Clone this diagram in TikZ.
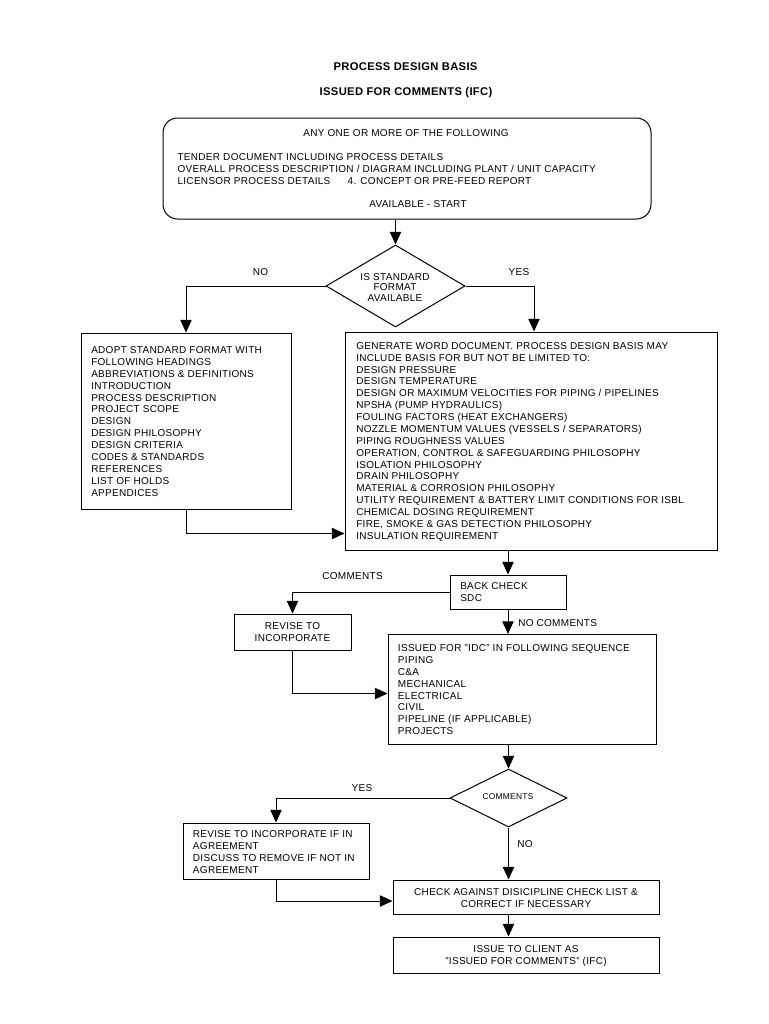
\documentclass[tikz,border=0pt]{standalone}
\usepackage{fontspec}
\setmainfont{Liberation Sans}[LetterSpace=3]
\usetikzlibrary{arrows.meta,calc,shapes.geometric}
\begin{document}
\begin{tikzpicture}[x=0.75pt,y=-0.75pt,
  pbox/.style 2 args={draw, line width=0.75pt, inner sep=0pt, minimum width=#1*0.75pt, minimum height=#2*0.75pt},
  dia/.style 2 args={diamond, draw, line width=0.75pt, inner sep=0pt, minimum width=#1*0.75pt, minimum height=#2*0.75pt},
  blk/.style={inner sep=0pt, font=\fontsize{7.5}{8.9}\selectfont, align=left, anchor=north west},
  ctr/.style={inner sep=0pt, font=\fontsize{7.5}{8.9}\selectfont, align=center, anchor=center},
  lbl/.style={inner sep=0pt, font=\fontsize{7.5}{8.9}\selectfont},
  ttl/.style={inner sep=0pt, font=\fontsize{8.4}{9}\selectfont\bfseries},
  arr/.style={draw, line width=0.75pt, -{Triangle[width=8.5pt,length=9.5pt]}}]
\useasboundingbox (0,0) rectangle (768,1024);

% titles
\node[ttl] (t1) at (405.5,67) {PROCESS DESIGN BASIS};
\node[ttl] (t2) at (406,92.7) {ISSUED FOR COMMENTS (IFC)};

% start box
\node[pbox={488}{101}, rounded corners=11pt] (start) at (407,168.5) {};
\node[lbl] (st1) at (406,133.3) {ANY ONE OR MORE OF THE FOLLOWING};
\node[blk] (st2) at (177.3,153.7) {TENDER DOCUMENT INCLUDING PROCESS DETAILS\\
OVERALL PROCESS DESCRIPTION / DIAGRAM INCLUDING PLANT / UNIT CAPACITY\\
LICENSOR PROCESS DETAILS\hspace{13pt}4. CONCEPT OR PRE-FEED REPORT};
\node[lbl] (st3) at (418,204.3) {AVAILABLE - START};

% decision 1
\node[dia={139}{82}] (d1) at (395.5,286) {};
\node[ctr, font=\fontsize{7.5}{8.1}\selectfont] (d1t) at (395,287.5) {IS STANDARD\\FORMAT\\AVAILABLE};
\node[lbl] (lno1) at (260.5,272) {NO};
\node[lbl] (lyes1) at (519,272) {YES};

% left box
\node[pbox={210}{176}] (left) at (186,421) {};
\node[blk] (leftt) at (91,346.4) {ADOPT STANDARD FORMAT WITH\\
FOLLOWING HEADINGS\\
ABBREVIATIONS \& DEFINITIONS\\
INTRODUCTION\\
PROCESS DESCRIPTION\\
PROJECT SCOPE\\
DESIGN\\
DESIGN PHILOSOPHY\\
DESIGN CRITERIA\\
CODES \& STANDARDS\\
REFERENCES\\
LIST OF HOLDS\\
APPENDICES};

% right box
\node[pbox={372}{218}] (right) at (531,441) {};
\node[blk] (rightt) at (356,342.1) {GENERATE WORD DOCUMENT. PROCESS DESIGN BASIS MAY\\
INCLUDE BASIS FOR BUT NOT BE LIMITED TO:\\
DESIGN PRESSURE\\
DESIGN TEMPERATURE\\
DESIGN OR MAXIMUM VELOCITIES FOR PIPING / PIPELINES\\
NPSHA (PUMP HYDRAULICS)\\
FOULING FACTORS (HEAT EXCHANGERS)\\
NOZZLE MOMENTUM VALUES (VESSELS / SEPARATORS)\\
PIPING ROUGHNESS VALUES\\
OPERATION, CONTROL \& SAFEGUARDING PHILOSOPHY\\
ISOLATION PHILOSOPHY\\
DRAIN PHILOSOPHY\\
MATERIAL \& CORROSION PHILOSOPHY\\
UTILITY REQUIREMENT \& BATTERY LIMIT CONDITIONS FOR ISBL\\
CHEMICAL DOSING REQUIREMENT\\
FIRE, SMOKE \& GAS DETECTION PHILOSOPHY\\
INSULATION REQUIREMENT};

% back check
\node[pbox={116}{34}] (bc) at (508,592) {};
\node[blk] (bct) at (460,582.4) {BACK CHECK\\SDC};
\node[lbl] (lcom) at (352.5,576) {COMMENTS};
\node[lbl, anchor=west] (lnocom) at (518,623) {NO COMMENTS};

% revise
\node[pbox={117}{36}] (rev) at (292.5,632) {};
\node[ctr] (revt) at (292.5,631.7) {REVISE TO\\INCORPORATE};

% IDC
\node[pbox={268}{110}] (idc) at (522,689.5) {};
\node[blk] (idct) at (397.7,644.4) {ISSUED FOR "IDC" IN FOLLOWING SEQUENCE\\
PIPING\\
C\&A\\
MECHANICAL\\
ELECTRICAL\\
CIVIL\\
PIPELINE (IF APPLICABLE)\\
PROJECTS};

% decision 2
\node[dia={117}{58}] (d2) at (508.5,798) {};
\node[lbl, font=\fontsize{6.3}{7}\selectfont] (d2t) at (508,796.7) {COMMENTS};
\node[lbl] (lyes2) at (362,788) {YES};
\node[lbl] (lno2) at (525,844) {NO};

% revise 2
\node[pbox={186}{56}] (rev2) at (276,851) {};
\node[blk] (rev2t) at (192.7,830.7) {REVISE TO INCORPORATE IF IN\\
AGREEMENT\\
DISCUSS TO REMOVE IF NOT IN\\
AGREEMENT};

% check
\node[pbox={266}{34}] (check) at (526,897) {};
\node[ctr] (checkt) at (526,898) {CHECK AGAINST DISICIPLINE CHECK LIST \&\\CORRECT IF NECESSARY};

% issue
\node[pbox={266}{36}] (issue) at (526,955) {};
\node[ctr] (issuet) at (526,955.6) {ISSUE TO CLIENT AS\\"ISSUED FOR COMMENTS" (IFC)};

% connectors
\draw[arr] (d1.north |- start.south) -- (d1.north);
\draw[arr] (d1.west) -| (left.north);
\draw[arr] (d1.east) -| ([xshift=2.25pt]right.north);
\draw[arr] (left.south) |- ($(right.south west)+(0,-17)$);
\draw[arr] (bc.north |- right.south) -- (bc.north);
\draw[arr] (bc.west) -| (rev.north);
\draw[arr] (bc.south) -- (bc.south |- idc.north);
\draw[arr] (rev.south) |- ($(idc.west)+(0,4)$);
\draw[arr] (d2.north |- idc.south) -- (d2.north);
\draw[arr] (d2.west) -| (rev2.north);
\draw[arr] (d2.south) -- (d2.south |- check.north);
\draw[arr] (rev2.south) |- ($(check.west)+(0,4)$);
\draw[arr] (d2.south |- check.south) -- (d2.south |- issue.north);
\end{tikzpicture}
\end{document}
